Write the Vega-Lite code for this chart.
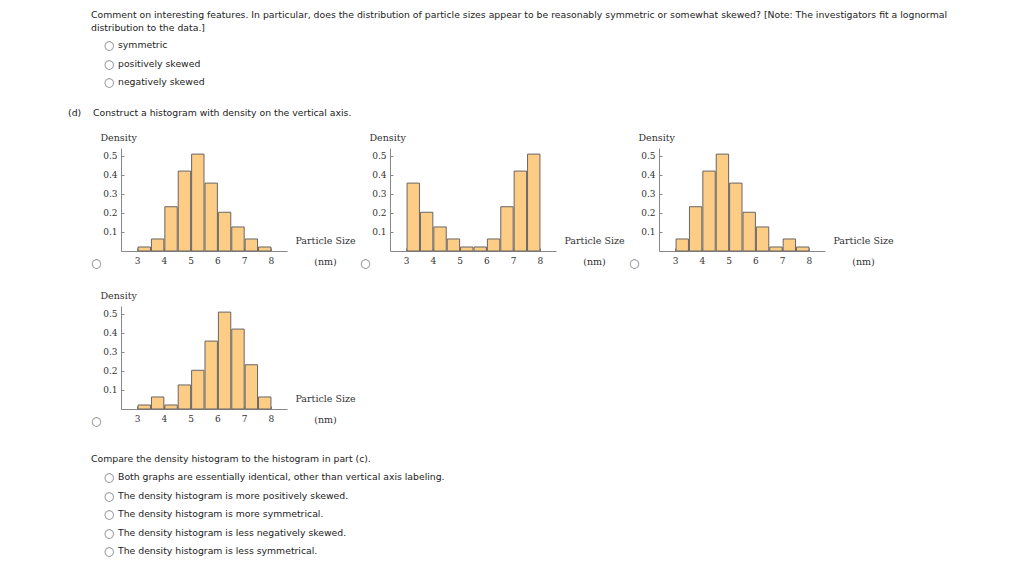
{
  "$schema": "https://vega.github.io/schema/vega-lite/v6.json",
  "padding": {"left": 68, "top": 5, "right": 0, "bottom": 0},
  "autosize": {"type": "pad"},
  "background": "white",
  "config": {
    "view": {"stroke": null},
    "title": {"orient": "bottom", "anchor": "start", "frame": "group", "dx": -30, "offset": -8, "font": "DejaVu Sans", "fontSize": 12, "fontWeight": "normal", "color": "#777"}
  },
  "datasets": {
    "hist": [
      {"graph": 1, "start": 3.0, "end": 3.5, "density": 0.021},
      {"graph": 1, "start": 3.5, "end": 4.0, "density": 0.063},
      {"graph": 1, "start": 4.0, "end": 4.5, "density": 0.232},
      {"graph": 1, "start": 4.5, "end": 5.0, "density": 0.419},
      {"graph": 1, "start": 5.0, "end": 5.5, "density": 0.508},
      {"graph": 1, "start": 5.5, "end": 6.0, "density": 0.356},
      {"graph": 1, "start": 6.0, "end": 6.5, "density": 0.203},
      {"graph": 1, "start": 6.5, "end": 7.0, "density": 0.126},
      {"graph": 1, "start": 7.0, "end": 7.5, "density": 0.063},
      {"graph": 1, "start": 7.5, "end": 8.0, "density": 0.021},
      {"graph": 2, "start": 3.0, "end": 3.5, "density": 0.356},
      {"graph": 2, "start": 3.5, "end": 4.0, "density": 0.203},
      {"graph": 2, "start": 4.0, "end": 4.5, "density": 0.126},
      {"graph": 2, "start": 4.5, "end": 5.0, "density": 0.063},
      {"graph": 2, "start": 5.0, "end": 5.5, "density": 0.021},
      {"graph": 2, "start": 5.5, "end": 6.0, "density": 0.021},
      {"graph": 2, "start": 6.0, "end": 6.5, "density": 0.063},
      {"graph": 2, "start": 6.5, "end": 7.0, "density": 0.232},
      {"graph": 2, "start": 7.0, "end": 7.5, "density": 0.419},
      {"graph": 2, "start": 7.5, "end": 8.0, "density": 0.508},
      {"graph": 3, "start": 3.0, "end": 3.5, "density": 0.063},
      {"graph": 3, "start": 3.5, "end": 4.0, "density": 0.232},
      {"graph": 3, "start": 4.0, "end": 4.5, "density": 0.419},
      {"graph": 3, "start": 4.5, "end": 5.0, "density": 0.508},
      {"graph": 3, "start": 5.0, "end": 5.5, "density": 0.356},
      {"graph": 3, "start": 5.5, "end": 6.0, "density": 0.203},
      {"graph": 3, "start": 6.0, "end": 6.5, "density": 0.126},
      {"graph": 3, "start": 6.5, "end": 7.0, "density": 0.021},
      {"graph": 3, "start": 7.0, "end": 7.5, "density": 0.063},
      {"graph": 3, "start": 7.5, "end": 8.0, "density": 0.021},
      {"graph": 4, "start": 3.0, "end": 3.5, "density": 0.021},
      {"graph": 4, "start": 3.5, "end": 4.0, "density": 0.063},
      {"graph": 4, "start": 4.0, "end": 4.5, "density": 0.021},
      {"graph": 4, "start": 4.5, "end": 5.0, "density": 0.126},
      {"graph": 4, "start": 5.0, "end": 5.5, "density": 0.203},
      {"graph": 4, "start": 5.5, "end": 6.0, "density": 0.356},
      {"graph": 4, "start": 6.0, "end": 6.5, "density": 0.508},
      {"graph": 4, "start": 6.5, "end": 7.0, "density": 0.419},
      {"graph": 4, "start": 7.0, "end": 7.5, "density": 0.232},
      {"graph": 4, "start": 7.5, "end": 8.0, "density": 0.063}
    ],
    "textA": [
      {"kind": "question", "level": 1, "order": 0, "text": "Comment on interesting features. In particular, does the distribution of particle sizes appear to be reasonably symmetric or somewhat skewed? [Note: The investigators fit a lognormal\ndistribution to the data.]"},
      {"kind": "option", "level": 2, "order": 1, "text": "symmetric"},
      {"kind": "option", "level": 2, "order": 2, "text": "positively skewed"},
      {"kind": "option", "level": 2, "order": 3, "text": "negatively skewed"},
      {"kind": "heading", "level": 0, "order": 4, "text": "(d)"},
      {"kind": "heading", "level": 1, "order": 4, "text": "Construct a histogram with density on the vertical axis."}
    ],
    "textD": [
      {"kind": "question", "level": 1, "order": 0, "text": "Compare the density histogram to the histogram in part (c)."},
      {"kind": "option", "level": 2, "order": 1, "text": "Both graphs are essentially identical, other than vertical axis labeling."},
      {"kind": "option", "level": 2, "order": 2, "text": "The density histogram is more positively skewed."},
      {"kind": "option", "level": 2, "order": 3, "text": "The density histogram is more symmetrical."},
      {"kind": "option", "level": 2, "order": 4, "text": "The density histogram is less negatively skewed."},
      {"kind": "option", "level": 2, "order": 5, "text": "The density histogram is less symmetrical."}
    ],
    "none": []
  },
  "bounds": "flush",
  "columns": 3,
  "spacing": {"row": 55, "column": 103},
  "concat": [
    {
      "width": 166, "height": 88,
      "data": {"name": "textA"},
      "encoding": {
        "x": {"field": "level", "type": "quantitative", "scale": {"domain": [0, 2], "range": [-53, -3]}, "axis": null},
        "y": {"field": "order", "type": "quantitative", "scale": {"domain": [0, 4], "range": [21.5, 95.5]}, "axis": null},
        "text": {"field": "text", "type": "nominal"}
      },
      "layer": [
        {"transform": [{"filter": "datum.kind == 'question'"}],
         "mark": {"type": "text", "align": "left", "baseline": "middle", "lineBreak": "\n", "lineHeight": 13, "dy": -11.5, "dx": -2, "font": "DejaVu Sans", "fontSize": 9.3, "color": "#222"}},
        {"transform": [{"filter": "datum.kind == 'option'"}],
         "mark": {"type": "text", "align": "left", "baseline": "middle", "font": "DejaVu Sans", "fontSize": 9.3, "color": "#222"}},
        {"transform": [{"filter": "datum.kind == 'option'"}],
         "mark": {"type": "text", "align": "center", "baseline": "middle", "dx": -9, "font": "DejaVu Sans", "fontSize": 12, "color": "#777"},
         "encoding": {"text": {"value": "○"}}},
        {"transform": [{"filter": "datum.kind == 'heading'"}],
         "mark": {"type": "text", "align": "left", "baseline": "middle", "dy": 12.5, "font": "DejaVu Sans", "fontSize": 9.3, "color": "#222"}}
      ]
    },
    {"width": 166, "height": 10, "data": {"name": "none"}, "mark": {"type": "text"}, "encoding": {}},
    {"width": 166, "height": 10, "data": {"name": "none"}, "mark": {"type": "text"}, "encoding": {}},
    {
      "width": 166, "height": 103,
      "data": {"name": "hist"},
      "transform": [{"filter": "datum.graph == 1"}],
      "title": {"text": "○"},
      "mark": {"type": "bar", "fill": "#FECD85", "stroke": "#666", "strokeWidth": 1},
      "encoding": {
        "x": {"field": "start", "type": "quantitative", "bin": "binned", "scale": {"domain": [2.4, 8.6], "nice": false, "zero": false},
          "axis": {"values": [3, 4, 5, 6, 7, 8], "format": "d", "title": ["Particle Size", "(nm)"], "titleX": 204, "titleY": -10.5, "titleAlign": "center", "titleBaseline": "middle", "titleLineHeight": 21, "titleFont": "DejaVu Serif", "titleFontSize": 9.5, "titleFontWeight": "normal", "titleColor": "#333", "labelFont": "DejaVu Serif", "labelFontSize": 9, "labelColor": "#333", "domainColor": "#888", "tickColor": "#888", "tickSize": -3, "labelPadding": 8, "grid": false, "labelFlush": false}},
        "x2": {"field": "end"},
        "y": {"field": "density", "type": "quantitative", "scale": {"domain": [0, 0.54], "nice": false},
          "axis": {"values": [0.1, 0.2, 0.3, 0.4, 0.5], "format": ".1f", "title": "Density", "titleAngle": 0, "titleAlign": "left", "titleBaseline": "middle", "titleX": -21, "titleY": -11, "titleFont": "DejaVu Serif", "titleFontSize": 9.5, "titleFontWeight": "normal", "titleColor": "#333", "labelFont": "DejaVu Serif", "labelFontSize": 9, "labelColor": "#333", "domainColor": "#888", "tickColor": "#888", "tickSize": -3, "labelPadding": 7, "grid": false}}
      }
    },
    {
      "width": 166, "height": 103,
      "data": {"name": "hist"},
      "transform": [{"filter": "datum.graph == 2"}],
      "title": {"text": "○"},
      "mark": {"type": "bar", "fill": "#FECD85", "stroke": "#666", "strokeWidth": 1},
      "encoding": {
        "x": {"field": "start", "type": "quantitative", "bin": "binned", "scale": {"domain": [2.4, 8.6], "nice": false, "zero": false},
          "axis": {"values": [3, 4, 5, 6, 7, 8], "format": "d", "title": ["Particle Size", "(nm)"], "titleX": 204, "titleY": -10.5, "titleAlign": "center", "titleBaseline": "middle", "titleLineHeight": 21, "titleFont": "DejaVu Serif", "titleFontSize": 9.5, "titleFontWeight": "normal", "titleColor": "#333", "labelFont": "DejaVu Serif", "labelFontSize": 9, "labelColor": "#333", "domainColor": "#888", "tickColor": "#888", "tickSize": -3, "labelPadding": 8, "grid": false, "labelFlush": false}},
        "x2": {"field": "end"},
        "y": {"field": "density", "type": "quantitative", "scale": {"domain": [0, 0.54], "nice": false},
          "axis": {"values": [0.1, 0.2, 0.3, 0.4, 0.5], "format": ".1f", "title": "Density", "titleAngle": 0, "titleAlign": "left", "titleBaseline": "middle", "titleX": -21, "titleY": -11, "titleFont": "DejaVu Serif", "titleFontSize": 9.5, "titleFontWeight": "normal", "titleColor": "#333", "labelFont": "DejaVu Serif", "labelFontSize": 9, "labelColor": "#333", "domainColor": "#888", "tickColor": "#888", "tickSize": -3, "labelPadding": 7, "grid": false}}
      }
    },
    {
      "width": 166, "height": 103,
      "data": {"name": "hist"},
      "transform": [{"filter": "datum.graph == 3"}],
      "title": {"text": "○"},
      "mark": {"type": "bar", "fill": "#FECD85", "stroke": "#666", "strokeWidth": 1},
      "encoding": {
        "x": {"field": "start", "type": "quantitative", "bin": "binned", "scale": {"domain": [2.4, 8.6], "nice": false, "zero": false},
          "axis": {"values": [3, 4, 5, 6, 7, 8], "format": "d", "title": ["Particle Size", "(nm)"], "titleX": 204, "titleY": -10.5, "titleAlign": "center", "titleBaseline": "middle", "titleLineHeight": 21, "titleFont": "DejaVu Serif", "titleFontSize": 9.5, "titleFontWeight": "normal", "titleColor": "#333", "labelFont": "DejaVu Serif", "labelFontSize": 9, "labelColor": "#333", "domainColor": "#888", "tickColor": "#888", "tickSize": -3, "labelPadding": 8, "grid": false, "labelFlush": false}},
        "x2": {"field": "end"},
        "y": {"field": "density", "type": "quantitative", "scale": {"domain": [0, 0.54], "nice": false},
          "axis": {"values": [0.1, 0.2, 0.3, 0.4, 0.5], "format": ".1f", "title": "Density", "titleAngle": 0, "titleAlign": "left", "titleBaseline": "middle", "titleX": -21, "titleY": -11, "titleFont": "DejaVu Serif", "titleFontSize": 9.5, "titleFontWeight": "normal", "titleColor": "#333", "labelFont": "DejaVu Serif", "labelFontSize": 9, "labelColor": "#333", "domainColor": "#888", "tickColor": "#888", "tickSize": -3, "labelPadding": 7, "grid": false}}
      }
    },
    {
      "width": 166, "height": 103,
      "data": {"name": "hist"},
      "transform": [{"filter": "datum.graph == 4"}],
      "title": {"text": "○"},
      "mark": {"type": "bar", "fill": "#FECD85", "stroke": "#666", "strokeWidth": 1},
      "encoding": {
        "x": {"field": "start", "type": "quantitative", "bin": "binned", "scale": {"domain": [2.4, 8.6], "nice": false, "zero": false},
          "axis": {"values": [3, 4, 5, 6, 7, 8], "format": "d", "title": ["Particle Size", "(nm)"], "titleX": 204, "titleY": -10.5, "titleAlign": "center", "titleBaseline": "middle", "titleLineHeight": 21, "titleFont": "DejaVu Serif", "titleFontSize": 9.5, "titleFontWeight": "normal", "titleColor": "#333", "labelFont": "DejaVu Serif", "labelFontSize": 9, "labelColor": "#333", "domainColor": "#888", "tickColor": "#888", "tickSize": -3, "labelPadding": 8, "grid": false, "labelFlush": false}},
        "x2": {"field": "end"},
        "y": {"field": "density", "type": "quantitative", "scale": {"domain": [0, 0.54], "nice": false},
          "axis": {"values": [0.1, 0.2, 0.3, 0.4, 0.5], "format": ".1f", "title": "Density", "titleAngle": 0, "titleAlign": "left", "titleBaseline": "middle", "titleX": -21, "titleY": -11, "titleFont": "DejaVu Serif", "titleFontSize": 9.5, "titleFontWeight": "normal", "titleColor": "#333", "labelFont": "DejaVu Serif", "labelFontSize": 9, "labelColor": "#333", "domainColor": "#888", "tickColor": "#888", "tickSize": -3, "labelPadding": 7, "grid": false}}
      }
    },
    {"width": 166, "height": 10, "data": {"name": "none"}, "mark": {"type": "text"}, "encoding": {}},
    {"width": 166, "height": 10, "data": {"name": "none"}, "mark": {"type": "text"}, "encoding": {}},
    {
      "width": 166, "height": 90,
      "data": {"name": "textD"},
      "encoding": {
        "x": {"field": "level", "type": "quantitative", "scale": {"domain": [0, 2], "range": [-53, -3]}, "axis": null},
        "y": {"field": "order", "type": "quantitative", "scale": {"domain": [0, 5], "range": [-5, 87]}, "axis": null},
        "text": {"field": "text", "type": "nominal"}
      },
      "layer": [
        {"transform": [{"filter": "datum.kind == 'question'"}],
         "mark": {"type": "text", "align": "left", "baseline": "middle", "dx": -2, "font": "DejaVu Sans", "fontSize": 9.3, "color": "#222"}},
        {"transform": [{"filter": "datum.kind == 'option'"}],
         "mark": {"type": "text", "align": "left", "baseline": "middle", "font": "DejaVu Sans", "fontSize": 9.3, "color": "#222"}},
        {"transform": [{"filter": "datum.kind == 'option'"}],
         "mark": {"type": "text", "align": "center", "baseline": "middle", "dx": -9, "font": "DejaVu Sans", "fontSize": 12, "color": "#777"},
         "encoding": {"text": {"value": "○"}}}
      ]
    }
  ]
}
